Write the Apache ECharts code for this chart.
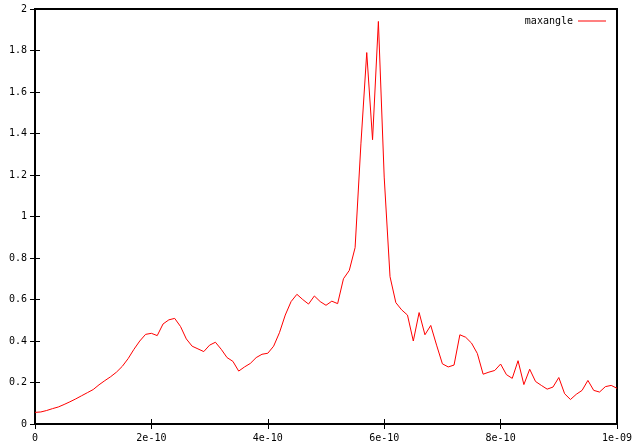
<!DOCTYPE html>
<html>
<head>
<meta charset="utf-8">
<script src="https://cdn.jsdelivr.net/npm/echarts@6/dist/echarts.min.js"></script>
<style>
html,body{margin:0;padding:0;background:#fff;}
#c{width:636px;height:448px;}
</style>
</head>
<body>
<div id="c"></div>
<script>
// x in units of 1e-10 seconds
const xValues = [0,0.1,0.2,0.3,0.4,0.5,0.6,0.7,0.8,0.9,1,1.1,1.2,1.3,1.4,1.5,1.6,1.7,1.8,1.9,2,2.1,2.2,2.3,2.4,2.5,2.6,2.7,2.8,2.9,3,3.1,3.2,3.3,3.4,3.5,3.6,3.7,3.8,3.9,4,4.1,4.2,4.3,4.4,4.5,4.6,4.7,4.8,4.9,5,5.1,5.2,5.3,5.4,5.5,5.6,5.7,5.8,5.9,6,6.1,6.2,6.3,6.4,6.5,6.6,6.7,6.8,6.9,7,7.1,7.2,7.3,7.4,7.5,7.6,7.7,7.8,7.9,8,8.1,8.2,8.3,8.4,8.5,8.6,8.7,8.8,8.9,9,9.1,9.2,9.3,9.4,9.5,9.6,9.7,9.8,9.9,10];
const maxangle = [0.056,0.058,0.065,0.074,0.082,0.094,0.107,0.121,0.136,0.151,
  0.166,0.189,0.209,0.228,0.250,0.278,0.315,0.360,0.400,0.432,
  0.437,0.426,0.482,0.502,0.509,0.470,0.410,0.375,0.362,0.349,
  0.380,0.394,0.360,0.320,0.302,0.255,0.275,0.292,0.320,0.336,
  0.341,0.375,0.440,0.525,0.590,0.625,0.600,0.578,0.617,0.590,
  0.572,0.592,0.580,0.700,0.740,0.850,1.350,1.790,1.370,1.940,
  1.190,0.710,0.585,0.550,0.525,0.400,0.537,0.430,0.475,0.380,
  0.290,0.275,0.284,0.430,0.418,0.390,0.340,0.240,0.250,0.258,
  0.289,0.238,0.220,0.305,0.190,0.264,0.205,0.186,0.168,0.178,
  0.224,0.146,0.118,0.143,0.162,0.210,0.162,0.154,0.180,0.186,0.172];
const xTicks = {min: 0, max: 10, interval: 2};
const yTicks = {min: 0, max: 2, interval: 0.2};
const seriesName = 'maxangle';

const fontFamily = '"DejaVu Sans Mono", monospace';
function fmtX(v){
  if (v === 0) return '0';
  const m = Math.round(v);
  if (m === 10) return '1e-09';
  return m + 'e-10';
}
const chart = echarts.init(document.getElementById('c'), null, {renderer:'canvas'});
const tick = {show:true, inside:true, length:5, lineStyle:{color:'#000', width:1}};
chart.setOption({
  animation:false,
  backgroundColor:'#fff',
  grid:{left:35, right:19, top:9, bottom:24, show:true, borderColor:'#000', borderWidth:2, backgroundColor:'transparent'},
  legend:{
    data:[seriesName], right:25, top:11, align:'right',
    icon:'rect', itemWidth:28, itemHeight:1, itemGap:5,
    textStyle:{fontFamily, fontSize:10, color:'#000'}
  },
  xAxis:[
    {type:'value', min:xTicks.min, max:xTicks.max, interval:xTicks.interval, position:'bottom',
     axisLine:{show:false}, axisTick:tick, splitLine:{show:false},
     axisLabel:{formatter:fmtX, fontFamily, fontSize:10, color:'#000', margin:9}},
    {type:'value', min:xTicks.min, max:xTicks.max, interval:xTicks.interval, position:'top',
     axisLine:{show:false}, axisTick:tick, splitLine:{show:false}, axisLabel:{show:false}}
  ],
  yAxis:[
    {type:'value', min:yTicks.min, max:yTicks.max, interval:yTicks.interval, position:'left',
     axisLine:{show:false}, axisTick:tick, splitLine:{show:false},
     axisLabel:{fontFamily, fontSize:10, color:'#000', margin:8}},
    {type:'value', min:yTicks.min, max:yTicks.max, interval:yTicks.interval, position:'right',
     axisLine:{show:false}, axisTick:tick, splitLine:{show:false}, axisLabel:{show:false}}
  ],
  series:[{
    name:seriesName, type:'line', xAxisIndex:0, yAxisIndex:0,
    data:xValues.map((x,i)=>[x, maxangle[i]]),
    showSymbol:false, symbol:'none', smooth:false,
    lineStyle:{color:'#ff0000', width:1}, itemStyle:{color:'#ff0000'}
  }]
});
</script>
</body>
</html>
